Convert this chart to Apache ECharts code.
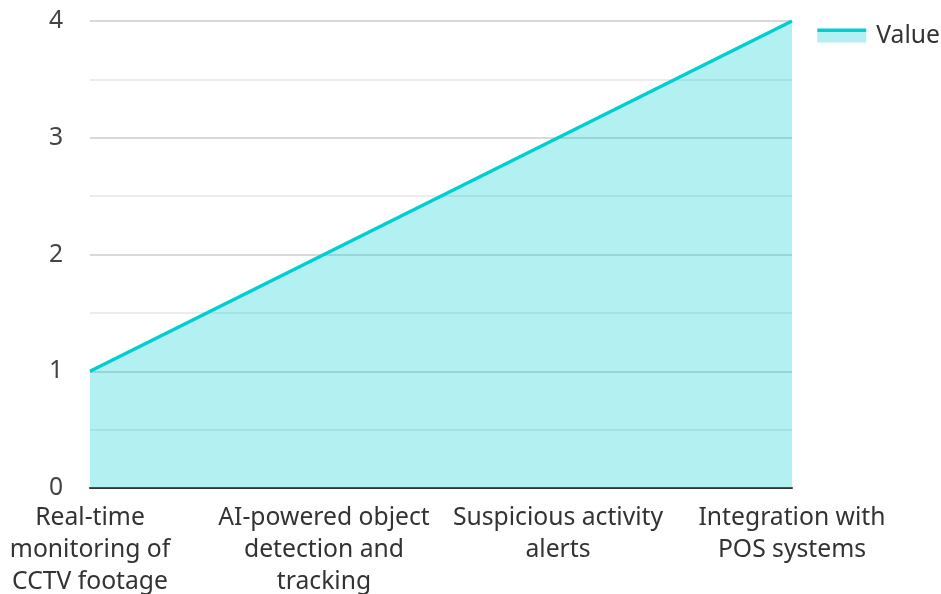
<!DOCTYPE html>
<html lang="en">
<head>
    <meta charset="UTF-8">
    <title>Chart</title>
    <style>
        html, body { margin: 0; padding: 0; background: #fff; }
    </style>
</head>
<body>
    <div id="main" style="width:941px; height:594px;"></div>
    <script src="https://cdn.jsdelivr.net/npm/echarts@6/dist/echarts.min.js"></script>
    <script>
        // 数据
        var categories = [
            'Real-time\nmonitoring of\nCCTV footage',
            'AI-powered object\ndetection and\ntracking',
            'Suspicious activity\nalerts',
            'Integration with\nPOS systems'
        ];
        var values = [1, 2, 3, 4];
        var yTicks = [0, 1, 2, 3, 4];

        var lineColor = '#00CED1';
        var fillColor = '#b2f0f1';
        var fontSize = 24.7;

        var myChart = echarts.init(document.getElementById('main'));

        var option = {
            textStyle: { fontFamily: 'Noto Sans' },
            legend: {
                data: [{
                    name: 'Value',
                    icon: 'rect',
                    itemStyle: {
                        // 图例: 上面线条, 下面填充
                        color: {
                            type: 'linear', x: 0, y: 0, x2: 0, y2: 1,
                            colorStops: [
                                { offset: 0, color: lineColor },
                                { offset: 0.28, color: lineColor },
                                { offset: 0.28, color: fillColor },
                                { offset: 1, color: fillColor }
                            ]
                        }
                    }
                }],
                right: -4,
                top: 18,
                itemWidth: 49,
                itemHeight: 14,
                itemGap: 10,
                textStyle: { fontSize: fontSize, color: '#333', fontFamily: 'Noto Sans', padding: [0, 0, 0, 5] }
            },
            grid: { left: 90, right: 149, top: 21, bottom: 106, outerBoundsMode: 'none' },
            xAxis: {
                type: 'category',
                data: categories,
                boundaryGap: false,
                axisLine: { lineStyle: { color: '#333', width: 2 } },
                axisTick: { show: false },
                axisLabel: {
                    fontSize: fontSize, color: '#333', lineHeight: 32, margin: 14,
                    interval: 0
                },
                splitLine: { show: false }
            },
            yAxis: {
                type: 'value',
                min: yTicks[0],
                max: yTicks[yTicks.length - 1],
                interval: 1,
                axisLine: { show: false },
                axisTick: { show: false },
                axisLabel: { fontSize: fontSize, color: '#444', margin: 27 },
                splitLine: { lineStyle: { color: '#ccc', width: 1.5 } },
                minorTick: { show: false, splitNumber: 2 },
                minorSplitLine: { show: true, lineStyle: { color: '#e6e6e6', width: 1.5 } }
            },
            series: [{
                name: 'Value',
                type: 'line',
                data: values,
                symbol: 'none',
                lineStyle: { color: lineColor, width: 3.5 },
                itemStyle: { color: lineColor },
                areaStyle: { color: lineColor, opacity: 0.3 }
            }]
        };
        myChart.setOption(option);
        window.onresize = myChart.resize;
    </script>
</body>
</html>
